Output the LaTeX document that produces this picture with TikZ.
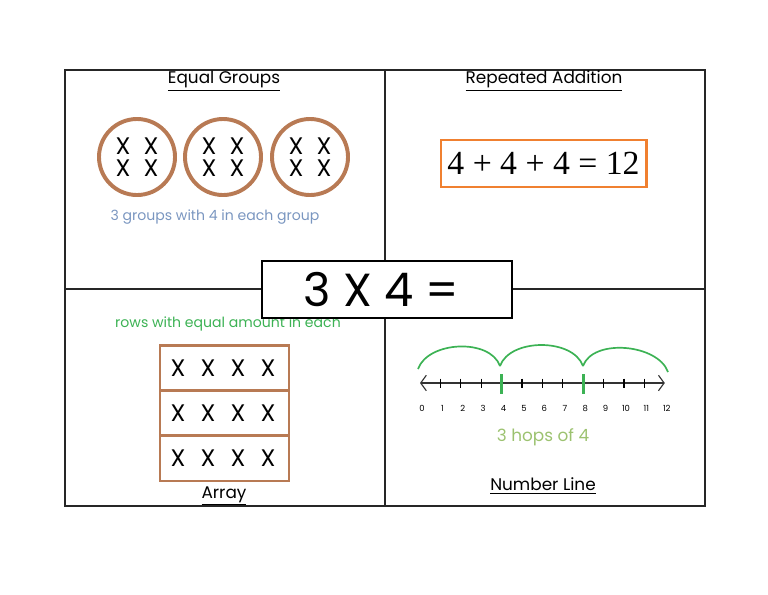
\documentclass[tikz,border=0pt]{standalone}
\usepackage{fontspec}
\usepackage{xcolor}
\setmainfont{Poppins}
\newfontfamily\sumfont{Liberation Serif}
\usetikzlibrary{arrows.meta}
\definecolor{ringbrown}{RGB}{184,122,84}
\definecolor{sumorange}{RGB}{240,128,48}
\definecolor{capblue}{RGB}{122,150,192}
\definecolor{rowgreen}{RGB}{60,178,84}
\definecolor{hopgreen}{RGB}{156,194,112}
\tikzset{
x=0.025cm, y=-0.025cm, % one unit is one pixel, y grows downwards
cell title/.style={font=\fontsize{12}{14}\selectfont, inner sep=1pt}, % titles of the four cells
cross/.style={font=\fontsize{17}{17}\selectfont, inner sep=0pt}, % the X marks
ring/.style={circle, draw=ringbrown, line width=2.8pt, minimum size=1.9cm}, % one group
row box/.style={draw=ringbrown, line width=2.1pt, minimum width=3.225cm, minimum height=1.133cm}, % one row of the array
caption/.style={font=\fontsize{10}{12}\selectfont, inner sep=0pt}, % small coloured notes
tick label/.style={font=\fontsize{6}{6}\selectfont, inner sep=0pt},
hop/.style={draw=rowgreen, line width=1.2pt},
}
\begin{document}
\begin{tikzpicture}
\useasboundingbox (0,0) rectangle (768,594);
% frame and cells
\draw[line width=0.8pt, black!85] (65,70) rectangle (705,506);
\draw[line width=0.8pt, black!85] (385,70) -- (385,506);
\draw[line width=0.8pt, black!85] (65,289) -- (705,289);

% equal groups
\node[cell title] (groupstitle) at (224,81) {\underline{Equal Groups}};
\node[ring] (ring1) at (137,157) {};
\node[ring] (ring2) at (223,157) {};
\node[ring] (ring3) at (310,157) {};
\foreach \c in {1,2,3}
  \foreach \dx in {-14,14}
    \foreach \dy in {-11,11}
      \node[cross] at ([shift={(\dx,\dy)}]ring\c.center) {X};
\node[caption, text=capblue] (groupscap) at (215,217) {3 groups with 4 in each group};

% repeated addition
\node[cell title] (addtitle) at (544,81) {\underline{Repeated Addition}};
\node[draw=sumorange, line width=2.1pt, minimum width=5.125cm, minimum height=1.175cm,
  font=\sumfont\fontsize{24}{24}\selectfont] (sum) at (543.5,163.5) {4 + 4 + 4 = 12};

% array
\node[caption, text=rowgreen] (rowscap) at (228,324) {rows with equal amount in each};
\foreach \r in {1,2,3} {
  \node[row box] (row\r) at (224.5,322.4+45.3*\r) {};
  \foreach \dx in {-46.5,-16.5,13.5,43.5}
    \node[cross] at ([shift={(\dx,0)}]row\r.center) {X};
}
\node[cell title] (arraytitle) at (224,496) {\underline{Array}};

% number line
\foreach \k in {0,...,12}
  \coordinate (n\k) at (420+20.4*\k,383);
\draw[line width=0.8pt, black!80, {Straight Barb[length=4pt,width=11pt]}-{Straight Barb[length=4pt,width=11pt]}] (n0) -- (n12);
\foreach \k in {1,2,3,5,6,7,9,10,11}
  \draw[line width=0.8pt] ([shift={(0,-4.5)}]n\k) -- ([shift={(0,4.5)}]n\k);
\foreach \k in {4,8}
  \draw[draw=rowgreen, line width=2pt] ([shift={(0,-9)}]n\k) -- ([shift={(0,11)}]n\k);
\foreach \k in {0,...,12}
  \node[tick label] (lab\k) at ([shift={(2,25)}]n\k) {\k};
\coordinate (h0) at (418,369);
\coordinate (h1) at (500,366);
\coordinate (h2) at (583,366);
\coordinate (h3) at (668,372);
\draw[hop] (h0) .. controls +(10,-28) and +(-10,-28) .. (h1);
\draw[hop] (h1) .. controls +(10,-28) and +(-10,-28) .. (h2);
\draw[hop] (h2) .. controls +(10,-28) and +(-10,-28) .. (h3);
\node[caption, text=hopgreen, font=\fontsize{12}{14}\selectfont] (hopscap) at (543,437) {3 hops of 4};
\node[cell title] (linetitle) at (543,486) {\underline{Number Line}};

% the product in the middle
\node[draw, fill=white, line width=0.8pt, minimum width=6.25cm, minimum height=1.425cm,
  font=\fontsize{33}{33}\selectfont] (product) at (387,289.5) {\hspace*{-8pt}3 X 4 =};
\end{tikzpicture}
\end{document}
